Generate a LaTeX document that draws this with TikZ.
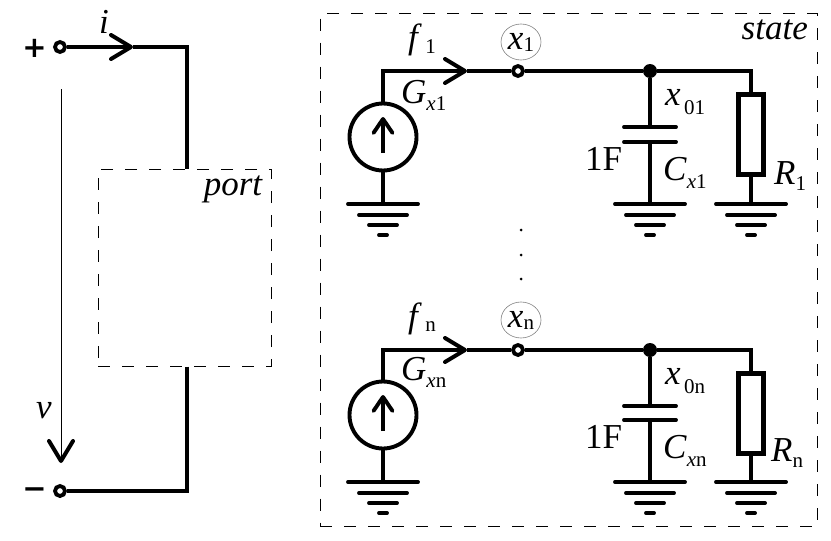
\documentclass[tikz,border=0pt]{standalone}
\usepackage{fontspec}
\setmainfont{Liberation Serif}
\newfontfamily\symfont{DejaVu Sans}
\usetikzlibrary{positioning,arrows.meta,shapes.geometric}

\newcommand{\lowtxt}[2][7pt]{\raisebox{-#1}{\fontsize{21}{21}\selectfont #2}}

\tikzset{
  wire/.style={line width=3.9pt,line join=miter},
  thickwire/.style={line width=4.7pt},
  barb/.style={-{Straight Barb[round,length=20pt,width=24pt,line width=4pt]}},
  smallbarb/.style={-{Straight Barb[round,length=14pt,width=19pt,line width=3.9pt]}},
  lab/.style={inner sep=0pt,anchor=base west,font=\fontsize{35}{38}\selectfont},
  sym/.style={inner sep=0pt,font=\fontsize{29}{31}\selectfont\symfont\bfseries},
  dashbox/.style={draw,line width=1pt,dash pattern=on 12pt off 12pt},
  term/.style={circle,draw,fill=white,line width=3.8pt,inner sep=0pt,minimum size=10pt},
  junc/.style={circle,fill=black,inner sep=0pt,minimum size=14pt},
  src/.style={circle,draw,line width=3.9pt,inner sep=0pt,minimum size=67pt},
  res/.style={rectangle,draw,line width=4.7pt,inner sep=0pt,minimum width=25.5pt,minimum height=80pt},
  tag/.style={ellipse,draw=gray,line width=0.6pt,inner sep=0pt,minimum width=40pt,minimum height=36pt,font=\fontsize{35}{38}\selectfont},
  gnd/.pic={
    \draw[wire,line cap=round] (-35,0) -- (35,0);
    \draw[wire,line cap=round] (-24,11) -- (24,11);
    \draw[wire,line cap=round] (-14,21) -- (14,21);
    \draw[wire,line cap=round] (-4,31) -- (4,31);
  }
}

\begin{document}
\begin{tikzpicture}[x=1pt,y=-1pt]

    \useasboundingbox (0,0) rectangle (831,541);

    % port side
    \node[term] (TePl) at (60,47) {};
    \node[term] (TeMi) at (60,491) {};
    \node[dashbox,minimum width=173pt,minimum height=197pt,inner sep=0pt] (Port) at (184.5,267.5) {};

    \coordinate (TipI) at (133,47);
    \coordinate (CoUp) at (187,47);
    \coordinate (CoDo) at (187,491);
    \coordinate (VoTo) at (61,89);
    \coordinate (VoBo) at (61,463);

    \draw[thickwire,barb] (TePl) -- (TipI);
    \draw[thickwire] (TipI) -- (CoUp) -- (CoUp |- Port.north);
    \draw[thickwire] (CoDo |- Port.south) -- (CoDo) -- (TeMi);
    \draw[line width=1pt] (VoTo) -- (61,450);
    \draw[line width=1pt,barb] (61,450) -- (VoBo);

    \node[sym] (Plus) at (34.5,48) {+};
    \node[sym] (Minus) at (34.5,493) {−};
    \node[lab] (LaI) at (99,33) {\textit{i}};
    \node[lab] (LaV) at (36,418) {\textit{v}};
    \node[lab,anchor=base east] (LaPo) at (263,195) {\textit{port}};

    % state side
    \node[dashbox,minimum width=497pt,minimum height=513pt,inner sep=0pt] (State) at (568.5,270) {};
    \node[lab,anchor=base east] (LaSt) at (808,39) {\textit{state}};

    % first branch
    \node[src] (SoA) at (383,137) {};
    \node[term] (TeA) at (518,71) {};
    \node[junc] (DoA) at (650,71) {};
    \node[res] (ReA) at (751,134.5) {};
    \node[tag] (TaA) at (521,42) {\textit{x}\lowtxt[2pt]{1}};

    \coordinate (TipA) at (467,71);
    \coordinate (PlAt) at (650,127);
    \coordinate (PlAb) at (650,142);
    \coordinate (GnSA) at (383,204);
    \coordinate (GnCA) at (650,204);
    \coordinate (GnRA) at (751,204);
    \coordinate (ArAb) at (383,153);
    \coordinate (ArAt) at (383,117);

    \draw[wire,barb] (SoA) |- (TipA);
    \draw[wire] (TipA) -- (TeA);
    \draw[wire] (TeA) -- (DoA);
    \draw[thickwire] (DoA) -| (ReA);
    \draw[wire] (DoA) -- (PlAt);
    \draw[wire] (PlAb) -- (GnCA);
    \draw[wire] (SoA) -- (GnSA);
    \draw[wire] (ReA) -- (GnRA);
    \draw[wire,line cap=round] ([xshift=-26pt]PlAt) -- ([xshift=26pt]PlAt);
    \draw[wire,line cap=round] ([xshift=-26pt]PlAb) -- ([xshift=26pt]PlAb);
    \draw[wire,smallbarb] (ArAb) -- (ArAt);

    \pic at (GnSA) {gnd};
    \pic at (GnCA) {gnd};
    \pic at (GnRA) {gnd};

    \node[lab] (LaFA) at (408,48) {\textit{f}\lowtxt[5pt]{\,1}};
    \node[lab] (LaGA) at (401,103) {\textit{G}\lowtxt{\textit{x}1}};
    \node[lab] (LaXA) at (665,105) {\textit{x}\lowtxt[9pt]{\,01}};
    \node[lab] (LaOA) at (585,170) {1F};
    \node[lab] (LaCA) at (663,180) {\textit{C}\lowtxt[8pt]{\textit{x}1}};
    \node[lab] (LaRA) at (774,184) {\textit{R}\lowtxt[6pt]{1}};

    % dots between the branches
    \node[circle,fill=black,inner sep=0pt,minimum size=3pt] (DotA) at (521,230) {};
    \node[circle,fill=black,inner sep=0pt,minimum size=3pt] (DotB) at (521,255) {};
    \node[circle,fill=black,inner sep=0pt,minimum size=3pt] (DotC) at (521,279) {};

    % last branch
    \node[src] (SoB) at (383,415) {};
    \node[term] (TeB) at (518,350) {};
    \node[junc] (DoB) at (650,350) {};
    \node[res] (ReB) at (751,413.5) {};
    \node[tag] (TaB) at (521,320) {\textit{x}\lowtxt[2pt]{n}};

    \coordinate (TipB) at (467,350);
    \coordinate (PlBt) at (650,406);
    \coordinate (PlBb) at (650,420);
    \coordinate (GnSB) at (383,482);
    \coordinate (GnCB) at (650,482);
    \coordinate (GnRB) at (751,482);
    \coordinate (ArBb) at (383,431);
    \coordinate (ArBt) at (383,395);

    \draw[wire,barb] (SoB) |- (TipB);
    \draw[wire] (TipB) -- (TeB);
    \draw[wire] (TeB) -- (DoB);
    \draw[thickwire] (DoB) -| (ReB);
    \draw[wire] (DoB) -- (PlBt);
    \draw[wire] (PlBb) -- (GnCB);
    \draw[wire] (SoB) -- (GnSB);
    \draw[wire] (ReB) -- (GnRB);
    \draw[wire,line cap=round] ([xshift=-26pt]PlBt) -- ([xshift=26pt]PlBt);
    \draw[wire,line cap=round] ([xshift=-26pt]PlBb) -- ([xshift=26pt]PlBb);
    \draw[wire,smallbarb] (ArBb) -- (ArBt);

    \pic at (GnSB) {gnd};
    \pic at (GnCB) {gnd};
    \pic at (GnRB) {gnd};

    \node[lab] (LaFB) at (408,327) {\textit{f}\lowtxt[4pt]{\,n}};
    \node[lab] (LaGB) at (401,380) {\textit{G}\lowtxt{\textit{x}n}};
    \node[lab] (LaXB) at (665,384) {\textit{x}\lowtxt[9pt]{\,0n}};
    \node[lab] (LaOB) at (585,448) {1F};
    \node[lab] (LaCB) at (663,458) {\textit{C}\lowtxt[8pt]{\textit{x}n}};
    \node[lab] (LaRB) at (771,461) {\textit{R}\lowtxt[6pt]{n}};

\end{tikzpicture}
\end{document}
